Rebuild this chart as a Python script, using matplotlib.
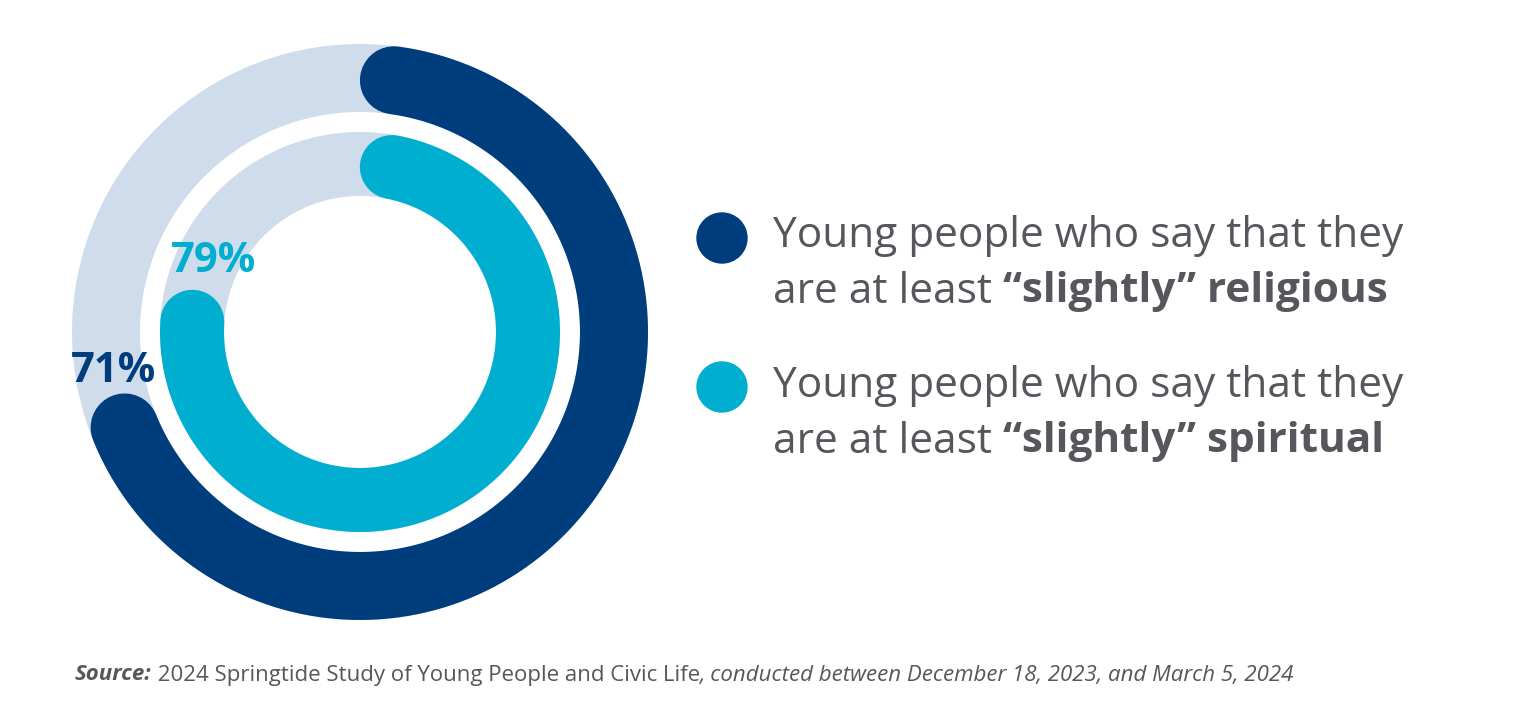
import numpy as np
import matplotlib
matplotlib.use("Agg")
import matplotlib.pyplot as plt

labels = ["71%", "79%"]
values = [71, 79]
legend_lines = [
    [("Young people who say that they", "normal")],
    [("are at least ", "normal"), ("“slightly” religious", "bold")],
    [("Young people who say that they", "normal")],
    [("are at least ", "normal"), ("“slightly” spiritual", "bold")],
]
source = [("Source:", "bold", "italic"), (" 2024 Springtide Study of Young People and Civic Life", "normal", "normal"),
          (", conducted between December 18, 2023, and March 5, 2024", "normal", "italic")]

DARK = "#003d7c"; CYAN = "#00afd0"; LIGHT = "#cfdcec"; GRAY = "#56575c"
FONT = "Open Sans"
W, H, DPI = 1536, 703, 100
fig = plt.figure(figsize=(W/DPI, H/DPI), dpi=DPI)
ax = fig.add_axes([0, 0, 1, 1])
ax.set_xlim(0, W); ax.set_ylim(H, 0); ax.axis("off")
px = 72 / DPI

cx, cy = 360, 332
rings = [(254, 68, DARK), (168, 64, CYAN)]
for (r, w, col), v in zip(rings, values):
    t = np.linspace(0, 2*np.pi, 400)
    ax.plot(cx + r*np.cos(t), cy - r*np.sin(t), color=LIGHT, lw=w*px, solid_capstyle="butt")
    off = np.degrees((w/2)/r)
    a0, a1 = 90 - off, 90 - 360*v/100 + off
    t = np.radians(np.linspace(a0, a1, 400))
    ax.plot(cx + r*np.cos(t), cy - r*np.sin(t), color=col, lw=w*px, solid_capstyle="round")

ax.text(113, 372, labels[0], color=DARK, fontsize=30, fontweight="bold", family=FONT, ha="center", va="center")
ax.text(213, 262, labels[1], color=CYAN, fontsize=30, fontweight="bold", family=FONT, ha="center", va="center")

for yy, col in [(238, DARK), (387, CYAN)]:
    ax.add_patch(plt.Circle((722, yy), 25, color=col))

r = fig.canvas.get_renderer()
def seq(x, y, parts, size):
    for p in parts:
        txt, wt = p[0], p[1]
        st = p[2] if len(p) > 2 else "normal"
        t = ax.text(x, y, txt, fontsize=size, fontweight=wt, style=st, family=FONT,
                    color=GRAY, va="center", ha="left")
        bb = t.get_window_extent(renderer=r)
        x += bb.width
ys = [236, 292, 386, 442]
for y, parts in zip(ys, legend_lines):
    seq(773, y, parts, 30.5)
seq(75, 675, source, 16)

fig.savefig("out.png", dpi=DPI)
